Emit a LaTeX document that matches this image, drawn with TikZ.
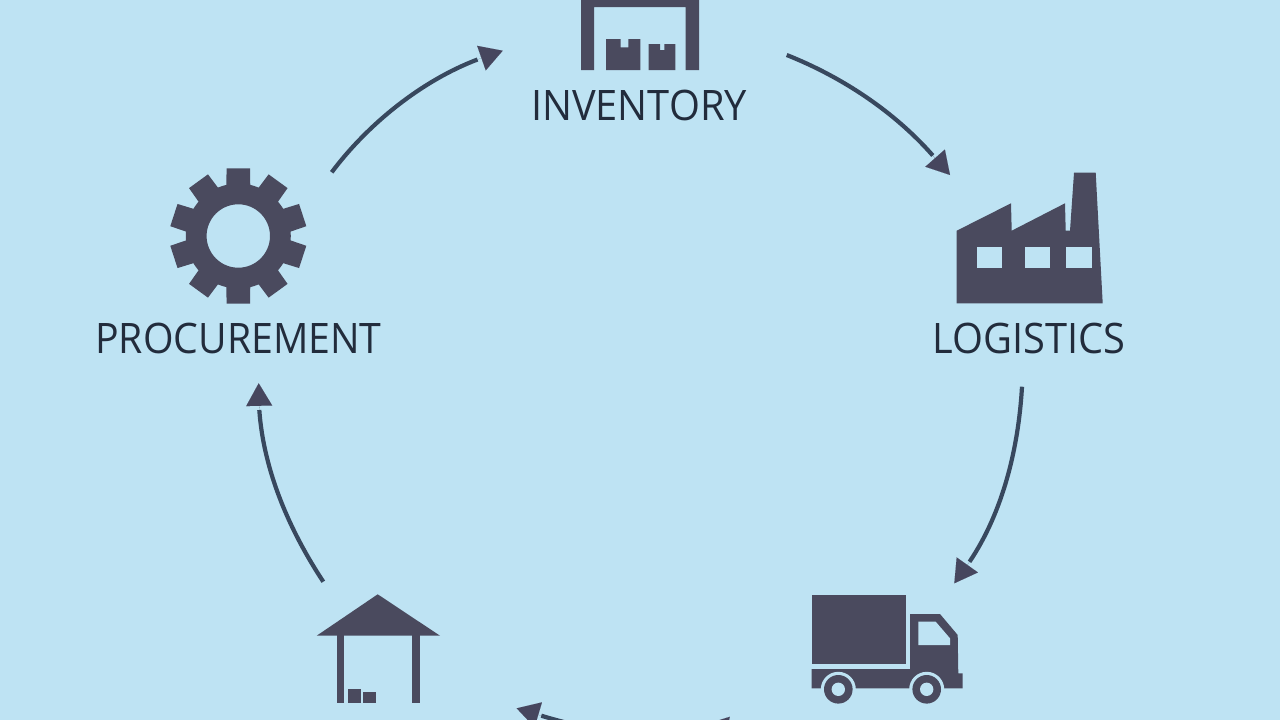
\documentclass[tikz,border=0pt]{standalone}
\usepackage{fontspec}
\setmainfont{Open Sans}[FakeStretch=0.947]
\newfontfamily\narrowlabel{Open Sans}[FakeStretch=0.934]
\usetikzlibrary{arrows.meta}
\definecolor{bgblue}{HTML}{BEE3F3}
\definecolor{icon}{HTML}{4A4A5E}
\definecolor{linecol}{HTML}{38485E}
\definecolor{headcol}{HTML}{46465E}
\definecolor{labelcol}{HTML}{222C3C}
\tikzset{
  iconfill/.style={fill=icon,draw=none},
  hole/.style={fill=bgblue,draw=none},
  label/.style={text=labelcol,anchor=base,inner sep=0pt,font=\fontsize{42}{42}\selectfont},
  connector/.style={draw=linecol,line width=4.2pt},
  headtip/.style={draw=headcol,line width=0.01pt,
    -{Triangle[length=22.5pt,width=26pt,color=headcol,fill=headcol]}}
}
\begin{document}
\begin{tikzpicture}[x=1pt,y=-1pt]
\useasboundingbox (0,0) rectangle (1280,720);
\clip (0,0) rectangle (1280,720);
\fill[bgblue] (0,0) rectangle (1280,720);

% labels
\node[label] (inventory) at (639,120.5) {INVENTORY};
\node[label] (logistics) at (1029,353) {LOGISTICS};
\node[label] (procurement) at (238.5,353) {\narrowlabel PROCUREMENT};

% inventory icon
\fill[iconfill] (581,-2) -- (699,-2) -- (699,70) -- (685.7,70) -- (685.7,7) -- (594,7) -- (594,70) -- (581,70) -- cycle;
\fill[iconfill] (606,39) -- (620.7,39) -- (620.7,47.3) -- (628.3,47.3) -- (628.3,39) -- (640.3,39) -- (640.3,70) -- (606,70) -- cycle;
\fill[iconfill] (648.7,44) -- (660,44) -- (660,50) -- (664.3,50) -- (664.3,44) -- (675.3,44) -- (675.3,70) -- (648.7,70) -- cycle;

% factory icon
\fill[iconfill] (956.7,230.7) -- (1011,203.3) -- (1011.7,230.7) -- (1065,203.3) -- (1065.7,230.7) -- (1070,230.7) -- (1074,172.7) -- (1095.7,172.7) -- (1102.7,303.3) -- (956.7,303.3) -- cycle;
\fill[hole] (976.7,247.3) rectangle (1002.3,268.3);
\fill[hole] (1025.3,247.3) rectangle (1050.3,268.3);
\fill[hole] (1065.7,247.3) rectangle (1091.7,268.3);

% truck icon
\fill[iconfill] (811.7,595) rectangle (906,664.3);
\fill[iconfill] (811.7,669) -- (910,669) -- (910,614) -- (940,614) -- (957.7,635) -- (958.3,673.3) -- (962.7,673.3) -- (962.7,688.3) -- (811.7,688.3) -- cycle;
\fill[hole] (918.3,621.7) -- (935.7,621.7) -- (950,638.3) -- (950,645) -- (918.3,645) -- cycle;
\foreach \wx in {838.3,926.7} {
  \fill[hole] (\wx,689.3) circle[radius=17.5];
  \fill[iconfill] (\wx,689.3) circle[radius=14.3];
  \fill[hole] (\wx,689.3) circle[radius=6.7];
}

% shelter icon
\fill[iconfill] (377.7,594.3) -- (440,635.7) -- (316.7,635.7) -- cycle;
\fill[iconfill] (337,635) rectangle (344.3,703.3);
\fill[iconfill] (412.3,635) rectangle (419.7,703.3);
\fill[iconfill] (348.3,689) rectangle (360.7,703.3);
\fill[iconfill] (363.3,692.3) rectangle (375.7,703.3);

% gear icon
\begin{scope}[shift={(238.3,236)}]
  \fill[iconfill,even odd rule] (0,0) circle[radius=52.5] (0,0) circle[radius=31.7];
  \foreach \ang in {0,36,...,324} {
    \fill[iconfill,rotate=\ang] (-12,-49) -- (-11.7,-67.7) -- (11.7,-67.7) -- (12,-49) -- cycle;
  }
\end{scope}

% connector ends; each tip stands a small gap beyond the end of its line
\coordinate (procStart) at (331.7,172.3);
\coordinate (invIn) at (477.5,59.5);
\coordinate (invTip) at (502.7,50.7);
\coordinate (invOut) at (786.7,55);
\coordinate (logIn) at (932.8,155.5);
\coordinate (logTip) at (950,175);
\coordinate (logOut) at (1022,386.7);
\coordinate (truckIn) at (969.5,561.8);
\coordinate (truckTip) at (954.3,583.3);
\coordinate (truckOut) at (793,745);
\coordinate (bottomIn) at (730.2,730.2);
\coordinate (bottomTip) at (705,724.5);
\coordinate (bottomOut) at (610,732);
\coordinate (shelterIn) at (541.3,715.7);
\coordinate (shelterTip) at (516.7,708.3);
\coordinate (shelterOut) at (323.3,581.7);
\coordinate (procIn) at (259.3,410);
\coordinate (procTip) at (258.7,383.3);

% connectors
\draw[connector] (procStart) .. controls (367.7,124.3) and (421,81) .. (invIn);
\draw[headtip] (invIn) -- (invTip);
\draw[connector] (invOut) .. controls (841.6,76.8) and (893.9,111.2) .. (logIn);
\draw[headtip] (logIn) -- (logTip);
\draw[connector] (logOut) .. controls (1018.5,447.7) and (1003,512) .. (truckIn);
\draw[headtip] (truckIn) -- (truckTip);
\draw[connector] (truckOut) .. controls (770,741) and (750,734.8) .. (bottomIn);
\draw[headtip] (bottomIn) -- (bottomTip);
\draw[connector] (bottomOut) .. controls (585,727.5) and (562,722) .. (shelterIn);
\draw[headtip] (shelterIn) -- (shelterTip);
\draw[connector] (shelterOut) .. controls (289.8,531) and (263.6,471) .. (procIn);
\draw[headtip] (procIn) -- (procTip);
\end{tikzpicture}
\end{document}
